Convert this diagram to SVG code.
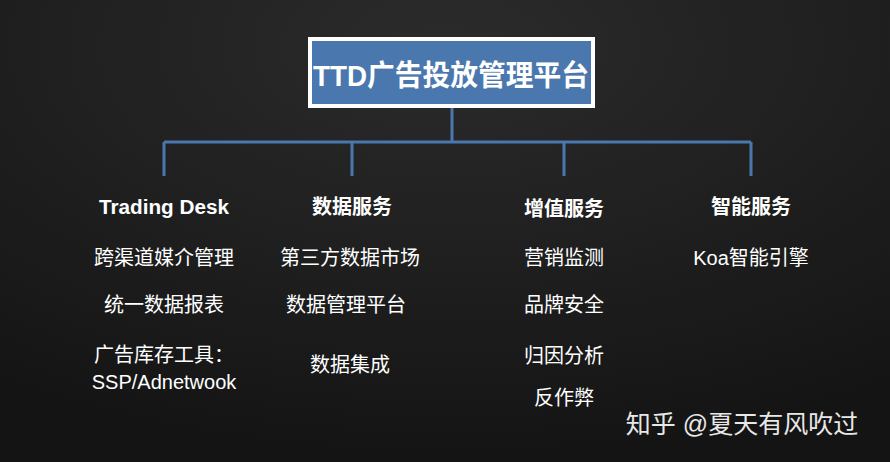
<svg xmlns="http://www.w3.org/2000/svg" width="890" height="462" viewBox="0 0 890 462">
<defs>
<radialGradient id="bg" cx="0.5" cy="0.1" r="0.9">
<stop offset="0" stop-color="#2b2b2b"/><stop offset="1" stop-color="#141414"/>
</radialGradient>
<style>
text{font-family:"Liberation Sans","Noto Sans CJK SC",sans-serif;fill:#fff;text-anchor:middle}
.h{font-size:20px;font-weight:bold}
.i{font-size:20px}
.c{stroke:#4a78ae;stroke-width:3;fill:none}
</style>
</defs>
<rect width="890" height="462" fill="url(#bg)"/>
<g id="connectors">
<path class="c" d="M452 108V142M164 142H751M164 142V176M352 142V176M564 142V176M751 142V176"/>
</g>
<g id="root">
<rect x="310" y="39" width="283" height="67" fill="#4a78ae" stroke="#fff" stroke-width="4"/>
<text x="451" y="86" style="font-size:29px;font-weight:bold" textLength="276" lengthAdjust="spacingAndGlyphs">TTD广告投放管理平台</text>
</g>
<g id="trading">
<text class="i" x="164" y="214" style="font-weight:bold" textLength="130" lengthAdjust="spacingAndGlyphs">Trading Desk</text>
<text class="i" x="164" y="265">跨渠道媒介管理</text>
<text class="i" x="164" y="312">统一数据报表</text>
<text class="i" x="164" y="362">广告库存工具：</text>
<text class="i" x="164" y="389">SSP/Adnetwook</text>
</g>
<g id="data">
<text class="h" x="352" y="214">数据服务</text>
<text class="i" x="350" y="265">第三方数据市场</text>
<text class="i" x="346" y="312">数据管理平台</text>
<text class="i" x="350" y="372">数据集成</text>
</g>
<g id="value">
<text class="h" x="564" y="216">增值服务</text>
<text class="i" x="564" y="265">营销监测</text>
<text class="i" x="564" y="312">品牌安全</text>
<text class="i" x="564" y="363">归因分析</text>
<text class="i" x="564" y="405">反作弊</text>
</g>
<g id="smart">
<text class="h" x="751" y="214">智能服务</text>
<text class="i" x="751" y="265">Koa智能引擎</text>
</g>
<text x="742" y="433" style="font-size:25px;fill:#e8e8e8">知乎 @夏天有风吹过</text>
</svg>
